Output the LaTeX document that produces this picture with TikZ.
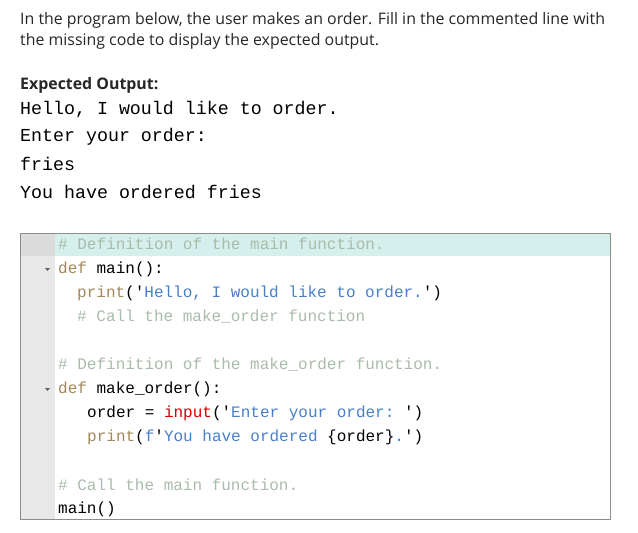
\documentclass[tikz,border=0pt]{standalone}
\usepackage{fontspec}
\setmainfont{Open Sans}
\setmonofont{Liberation Mono}
\begin{document}
\begin{tikzpicture}[x=1pt,y=-1pt,
  txt/.style={anchor=west,inner sep=0,font=\fontsize{15.9}{18}\selectfont,text=black!85},
  outline/.style={anchor=west,inner sep=0,font=\ttfamily\fontsize{18.3}{20}\selectfont},
  code/.style={anchor=west,inner sep=0,font=\ttfamily\fontsize{16}{18}\selectfont},
  fold/.style={fill=black!60}]
\definecolor{kw}{HTML}{A2875A}
\definecolor{st}{HTML}{4A7FC8}
\definecolor{cm}{HTML}{A9BBAA}
\definecolor{hl}{HTML}{D5F0EC}
\useasboundingbox (0,0) rectangle (638,533);
\node[txt] (t1) at (20,20) {In the program below, the user makes an order. Fill in the commented line with};
\node[txt] (t2) at (20,41) {the missing code to display the expected output.};
\node[txt,font=\bfseries\fontsize{15.9}{18}\selectfont] (eo) at (20,85) {Expected Output:};
\node[outline] (o1) at (20,109) {Hello, I would like to order.};
\node[outline] (o2) at (20,137) {Enter your order:};
\node[outline] (o3) at (20,164) {fries};
\node[outline] (o4) at (20,192) {You have ordered fries};
% editor
\fill[black!9] (20,233) rectangle (55,519);
\fill[black!14] (20,233) rectangle (55,256);
\fill[hl] (55,233) rectangle (610,256);
\draw[black!45] (20,233) rectangle (610,519);
\node[code,text=cm] (c1) at (58,244) {\# Definition of the main function.};
\node[code] (c2) at (58,269) {\textcolor{kw}{def} main():};
\node[code] (c3) at (77,293) {\textcolor{kw}{print}('\textcolor{st}{Hello, I would like to order.}')};
\node[code,text=cm] (c4) at (77,317) {\# Call the make\_order function};
\node[code,text=cm] (c5) at (58,365) {\# Definition of the make\_order function.};
\node[code] (c6) at (58,389) {\textcolor{kw}{def} make\_order():};
\node[code] (c7) at (87,413) {order = \textcolor{red!85!black}{input}('\textcolor{st}{Enter your order: }')};
\node[code] (c8) at (87,437) {\textcolor{kw}{print}(\textcolor{st}{f}'\textcolor{st}{You have ordered} \{order\}\textcolor{st}{.}')};
\node[code,text=cm] (c9) at (58,485) {\# Call the main function.};
\node[code] (c10) at (58,509) {main()};
\fill[fold] (45,268) -- (50,268) -- (47.5,271) -- cycle;
\fill[fold] (45,388) -- (50,388) -- (47.5,391) -- cycle;
\end{tikzpicture}
\end{document}
